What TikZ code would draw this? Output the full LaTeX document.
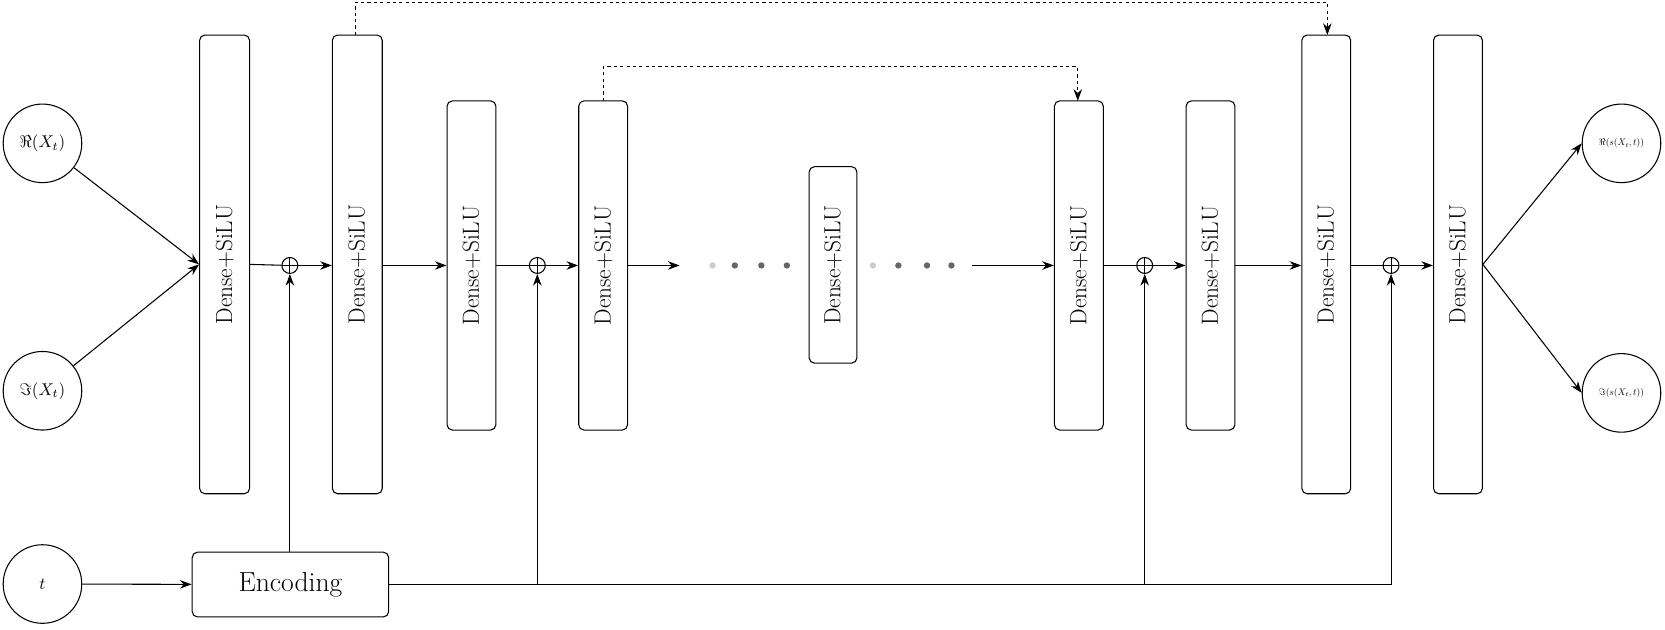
\documentclass[tikz,border=0pt]{standalone}
\usepackage{amssymb}
\usetikzlibrary{arrows.meta}
\begin{document}
\begin{tikzpicture}[x=1pt,y=-1pt,
  blk/.style={draw,rounded corners=5pt,line width=1pt},
  circ/.style={draw,circle,minimum size=74pt,inner sep=0pt,line width=1pt},
  arr/.style={-{Stealth[length=11pt,width=8pt]},line width=1pt},
  ln/.style={line width=1pt},
  op/.style={draw,circle,minimum size=15pt,inner sep=0pt,line width=1pt,path picture={\draw (path picture bounding box.north)--(path picture bounding box.south) (path picture bounding box.west)--(path picture bounding box.east);}},
  lab/.style={font=\fontsize{22}{24}\selectfont,rotate=90},
  dt/.style={circle,fill=#1,minimum size=6pt,inner sep=0pt}]
\useasboundingbox (0,0) rectangle (1568,593);
\def\ds{Dense+SiLU}
\node[circ] (r) at (40,135) {};
\node[circ] (i) at (40,368) {};
\node[circ] (t) at (40,550) {};
\node[circ] (ro) at (1527,135) {};
\node[circ] (io) at (1527,370) {};
\node[scale=1.6] (rl) at (r) {$\Re(X_t)$};
\node[scale=1.6] (il) at (i) {$\Im(X_t)$};
\node[scale=1.6] (tl) at (t) {$t$};
\node[scale=0.9] (rol) at (ro) {$\Re(s(X_t,t))$};
\node[scale=0.9] (iol) at (io) {$\Im(s(X_t,t))$};
\newcommand\blkat[6]{\node[blk,minimum width=#4-#2,minimum height=#5-#3] (#1) at ({(#2+#4)/2},{(#3+#5)/2}) {};\node[lab] at (#1) {#6};}
\blkat{b1}{188}{33}{235}{465}{\ds}
\blkat{b2}{313}{33}{360}{465}{\ds}
\blkat{b3}{421}{95}{467}{405}{\ds}
\blkat{b4}{545}{95}{591}{405}{\ds}
\blkat{b5}{762}{157}{807}{342}{\ds}
\blkat{b6}{993}{95}{1039}{405}{\ds}
\blkat{b7}{1117}{95}{1163}{405}{\ds}
\blkat{b8}{1226}{33}{1272}{465}{\ds}
\blkat{b9}{1350}{33}{1396}{465}{\ds}
\node[blk,minimum width=185,minimum height=61,font=\fontsize{26}{28}\selectfont] (enc) at (273.5,550.5) {Encoding};
\node[op] (o1) at (273,250) {};
\node[op] (o2) at (506,250) {};
\node[op] (o3) at (1078,250) {};
\node[op] (o4) at (1310,250) {};
% inputs
\draw[arr] (r) -- (b1.west);
\draw[arr] (i) -- (b1.west);
\draw[arr] (t) -- (enc);
% main line
\draw[ln] (b1.east) -- (o1);
\draw[arr] (o1) -- (b2.west |- o1);
\draw[arr] (b2.east |- o1) -- (b3.west |- o1);
\draw[ln] (b3.east |- o1) -- (o2);
\draw[arr] (o2) -- (b4.west |- o2);
\coordinate (a1) at (640,250);
\draw[arr] (b4.east |- o1) -- (a1);
\node[dt=black!20] (d1) at (671,250) {};
\node[dt=black!60] (d2) at (692,250) {};
\node[dt=black!60] (d3) at (717,250) {};
\node[dt=black!60] (d4) at (741,250) {};
\node[dt=black!20] (d5) at (822,250) {};
\node[dt=black!60] (d6) at (846,250) {};
\node[dt=black!60] (d7) at (873,250) {};
\node[dt=black!60] (d8) at (896,250) {};
\coordinate (s2) at (915,250);
\draw[arr] (s2) -- (b6.west |- s2);
\draw[ln] (b6.east |- o3) -- (o3);
\draw[arr] (o3) -- (b7.west |- o3);
\draw[arr] (b7.east |- o3) -- (b8.west |- o3);
\draw[ln] (b8.east |- o4) -- (o4);
\draw[arr] (o4) -- (b9.west |- o4);
% outputs
\draw[arr] (b9.east) -- (ro.west);
\draw[arr] (b9.east) -- (io.west);
% encoding
\draw[arr] (enc.north -| o1) -- (o1);
\draw[ln] (enc.east) -- (o4 |- enc.east);
\draw[arr] (o2 |- enc.east) -- (o2);
\draw[arr] (o3 |- enc.east) -- (o3);
\draw[arr] (o4 |- enc.east) -- (o4);
% skips
\draw[arr,dashed] (335,33) -- (335,2) -- (1250,2) -- (1250,33);
\draw[arr,dashed] (568,95) -- (568,63) -- (1015,63) -- (1015,95);
\end{tikzpicture}
\end{document}
